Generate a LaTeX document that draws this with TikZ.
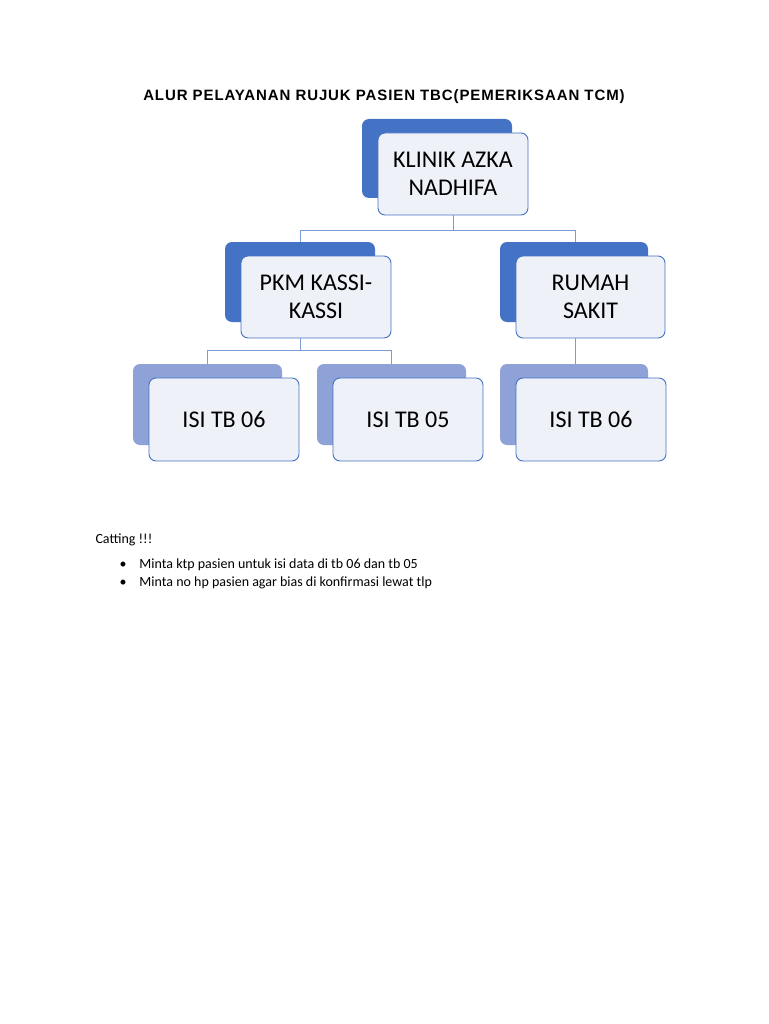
\documentclass[tikz,border=0pt]{standalone}
\usepackage{fontspec}
\setmainfont{Carlito}
\newfontfamily\titlefont{Liberation Sans}
\begin{document}
\begin{tikzpicture}[x=1pt,y=-1pt,
  back/.style={fill=#1,draw=none,rounded corners=7pt},
  front/.style={fill=frontc,draw=dblue,line width=0.9pt,rounded corners=7pt,align=center,font=\fontsize{24}{28}\selectfont},
  conn/.style={draw=dblue!70,line width=0.6pt},
  note/.style={anchor=west,font=\fontsize{14}{16}\selectfont}]
\definecolor{dblue}{HTML}{4472C4}
\definecolor{lblue}{HTML}{8EA2D8}
\definecolor{frontc}{HTML}{EEF1F8}
\useasboundingbox (0,0) rectangle (768,1024);
\node (title) at (384,97) {\titlefont\bfseries\fontsize{15}{17}\selectfont\addfontfeature{LetterSpace=6} ALUR PELAYANAN RUJUK PASIEN TBC(PEMERIKSAAN TCM)};
% top
\fill[back=dblue] (362,119) rectangle (512,198);
\node[front,minimum width=150pt,minimum height=82pt] (klinik) at (453,174) {KLINIK AZKA\\NADHIFA};
% row 2
\fill[back=dblue] (225,242) rectangle (375,322);
\node[front,minimum width=150pt,minimum height=82pt] (pkm) at (316,297) {PKM KASSI-\\KASSI};
\fill[back=dblue] (500,242) rectangle (648,322);
\node[front,minimum width=149pt,minimum height=82pt] (rs) at (590.5,297) {RUMAH\\SAKIT};
% row 3
\fill[back=lblue] (133,364) rectangle (282,445);
\node[front,minimum width=150pt,minimum height=83pt] (a) at (224,419.5) {ISI TB 06};
\fill[back=lblue] (317,364) rectangle (466,445);
\node[front,minimum width=150pt,minimum height=83pt] (b) at (408,419.5) {ISI TB 05};
\fill[back=lblue] (500,364) rectangle (648,445);
\node[front,minimum width=150pt,minimum height=83pt] (c) at (591,419.5) {ISI TB 06};
% connectors
\coordinate (j1) at (453,230);
\draw[conn] (klinik.south) -- (j1) -- (300,230) -- (300,242);
\draw[conn] (j1) -- (575,230) -- (575,242);
\draw[conn] (300,338) -- (300,350);
\draw[conn] (207,364) -- (207,350) -- (391,350) -- (391,364);
\draw[conn] (575,338) -- (575,364);
% notes
\node[note] (n0) at (92,540) {Catting !!!};
\node[note] (n1) at (116,565) {\textbullet\hspace{13pt}Minta ktp pasien untuk isi data di tb 06 dan tb 05};
\node[note] (n2) at (116,583) {\textbullet\hspace{13pt}Minta no hp pasien agar bias di konfirmasi lewat tlp};
\end{tikzpicture}
\end{document}
